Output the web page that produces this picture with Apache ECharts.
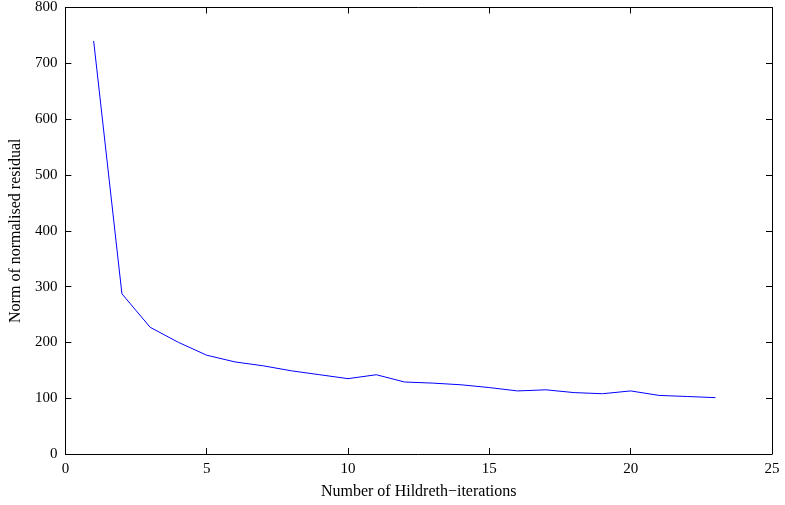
<!DOCTYPE html>
<html><head><meta charset="utf-8">
<script src="https://cdn.jsdelivr.net/npm/echarts@6/dist/echarts.min.js"></script>
<style>html,body{margin:0;padding:0;background:#fff}#c{width:785px;height:505px}</style>
</head><body><div id="c"></div>
<script>
const iterations = [1,2,3,4,5,6,7,8,9,10,11,12,13,14,15,16,17,18,19,20,21,22,23];
const residual = [740,287,227,200,177,165,158,149,142,135,142,129,127,124,119,113,115,110,108,113,105,103,101];
const xLabel = 'Number of Hildreth\u2212iterations';
const yLabel = 'Norm of normalised residual';
const font = 'Liberation Serif';
const axisCommon = {
  axisLine:{show:true,onZero:false,lineStyle:{color:'#000',width:1}},
  axisTick:{show:true,inside:true,length:6,lineStyle:{color:'#000'}},
  splitLine:{show:false}
};
const chart = echarts.init(document.getElementById('c'));
chart.setOption({
  animation:false,
  grid:{left:62,right:13,top:7,bottom:47,containLabel:false},
  xAxis:[
    Object.assign({type:'value',min:0,max:25,interval:5,position:'bottom',name:xLabel,nameLocation:'middle',nameGap:30,
      nameTextStyle:{fontFamily:font,fontSize:16,color:'#000'},
      axisLabel:{fontFamily:font,fontSize:15,color:'#000'}},axisCommon),
    Object.assign({type:'value',min:0,max:25,interval:5,position:'top',axisLabel:{show:false}},axisCommon)
  ],
  yAxis:[
    Object.assign({type:'value',min:0,max:800,interval:100,position:'left',name:yLabel,nameLocation:'middle',nameGap:40,
      nameTextStyle:{fontFamily:font,fontSize:16,color:'#000'},
      axisLabel:{fontFamily:font,fontSize:15,color:'#000'}},axisCommon),
    Object.assign({type:'value',min:0,max:800,interval:100,position:'right',axisLabel:{show:false}},axisCommon)
  ],
  series:[{type:'line',data:iterations.map((x,i)=>[x,residual[i]]),showSymbol:false,
    lineStyle:{color:'#0000ff',width:1}}]
});
</script></body></html>
